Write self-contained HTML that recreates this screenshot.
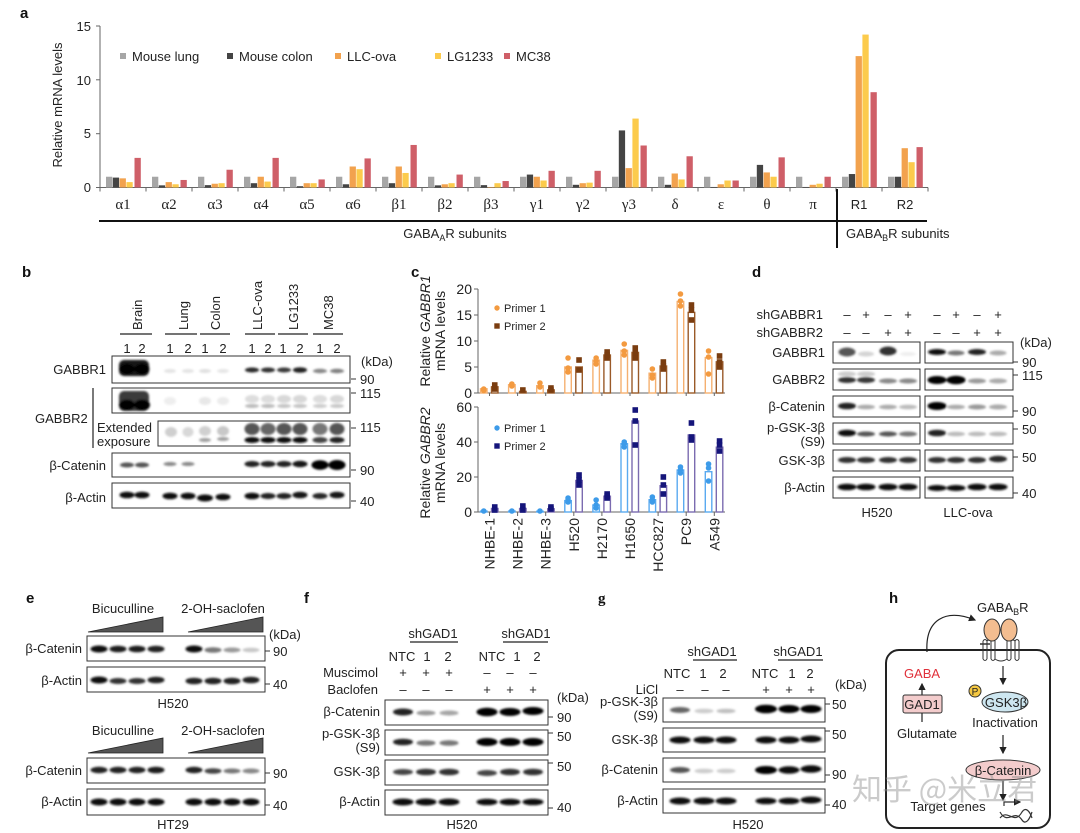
<!DOCTYPE html>
<html><head><meta charset="utf-8">
<style>
html,body{margin:0;padding:0;background:#fff;}
svg{display:block;}
text{font-family:"Liberation Sans",Arial,sans-serif;font-size:13px;fill:#222;}
.pl{font-weight:bold;font-size:15px;fill:#111;}
.sf{font-family:"Liberation Serif","Times New Roman",serif;font-size:15px;}
.k1{fill:#a6a6a6}.k2{fill:#444}.k3{fill:#f2a24e}.k4{fill:#fccb4c}.k5{fill:#cf5f68}
.box{fill:#fff;stroke:#333;stroke-width:1}
.e{text-anchor:end}.m{text-anchor:middle}
.ax{stroke:#666;stroke-width:1;fill:none}
.t14{font-size:14px}
.t11{font-size:11px}
</style></head><body>
<svg width="1080" height="833" viewBox="0 0 1080 833" xmlns="http://www.w3.org/2000/svg">
<defs>
<filter id="bl" x="-50%" y="-100%" width="200%" height="300%"><feGaussianBlur stdDeviation="1.1"/></filter>
<filter id="bl2" x="-50%" y="-100%" width="200%" height="300%"><feGaussianBlur stdDeviation="2"/></filter>
<marker id="ah" markerWidth="6" markerHeight="6" refX="5" refY="3" orient="auto"><path d="M0,0 L6,3 L0,6 z" fill="#222"/></marker>
</defs>

<!-- ================= PANEL A ================= -->
<text x="20" y="18" class="pl">a</text>
<text transform="translate(62,105) rotate(-90)" class="m">Relative mRNA levels</text>
<line x1="100" y1="26" x2="100" y2="187.5" class="ax"/>
<g class="ax">
<line x1="96" y1="26" x2="100" y2="26"/><line x1="96" y1="79.8" x2="100" y2="79.8"/><line x1="96" y1="133.7" x2="100" y2="133.7"/><line x1="96" y1="187.5" x2="100" y2="187.5"/>
</g>
<text x="91" y="31" class="e">15</text>
<text x="91" y="85" class="e">10</text>
<text x="91" y="138" class="e">5</text>
<text x="91" y="192" class="e">0</text>
<line x1="100" y1="187.5" x2="928" y2="187.5" class="ax"/>
<path class="ax" d="M100,187.5v4M146,187.5v4M192,187.5v4M238,187.5v4M284,187.5v4M330,187.5v4M376,187.5v4M422,187.5v4M468,187.5v4M514,187.5v4M560,187.5v4M606,187.5v4M652,187.5v4M698,187.5v4M744,187.5v4M790,187.5v4M836,187.5v4M882,187.5v4M928,187.5v4"/>

<!-- legend -->
<rect x="120" y="53" width="6" height="6" class="k1"/><text x="132" y="61">Mouse lung</text>
<rect x="227" y="53" width="6" height="6" class="k2"/><text x="239" y="61">Mouse colon</text>
<rect x="335" y="53" width="6" height="6" class="k3"/><text x="347" y="61">LLC-ova</text>
<rect x="435" y="53" width="6" height="6" class="k4"/><text x="447" y="61">LG1233</text>
<rect x="504" y="53" width="6" height="6" class="k5"/><text x="516" y="61">MC38</text>

<!-- bars -->
<g transform="translate(100,187.5) scale(1,-10.77)"><rect x="6" width="6.3" height="1" class="k1"/><rect x="12.8" width="6.3" height="0.92" class="k2"/><rect x="19.6" width="6.3" height="0.85" class="k3"/><rect x="26.4" width="6.3" height="0.5" class="k4"/><rect x="34.5" width="6.3" height="2.75" class="k5"/></g>
<g transform="translate(146,187.5) scale(1,-10.77)"><rect x="6" width="6.3" height="1" class="k1"/><rect x="12.8" width="6.3" height="0.2" class="k2"/><rect x="19.6" width="6.3" height="0.5" class="k3"/><rect x="26.4" width="6.3" height="0.3" class="k4"/><rect x="34.5" width="6.3" height="0.7" class="k5"/></g>
<g transform="translate(192,187.5) scale(1,-10.77)"><rect x="6" width="6.3" height="1" class="k1"/><rect x="12.8" width="6.3" height="0.22" class="k2"/><rect x="19.6" width="6.3" height="0.35" class="k3"/><rect x="26.4" width="6.3" height="0.4" class="k4"/><rect x="34.5" width="6.3" height="1.65" class="k5"/></g>
<g transform="translate(238,187.5) scale(1,-10.77)"><rect x="6" width="6.3" height="1" class="k1"/><rect x="12.8" width="6.3" height="0.4" class="k2"/><rect x="19.6" width="6.3" height="1.0" class="k3"/><rect x="26.4" width="6.3" height="0.55" class="k4"/><rect x="34.5" width="6.3" height="2.75" class="k5"/></g>
<g transform="translate(284,187.5) scale(1,-10.77)"><rect x="6" width="6.3" height="1" class="k1"/><rect x="12.8" width="6.3" height="0.12" class="k2"/><rect x="19.6" width="6.3" height="0.4" class="k3"/><rect x="26.4" width="6.3" height="0.4" class="k4"/><rect x="34.5" width="6.3" height="0.75" class="k5"/></g>
<g transform="translate(330,187.5) scale(1,-10.77)"><rect x="6" width="6.3" height="1" class="k1"/><rect x="12.8" width="6.3" height="0.3" class="k2"/><rect x="19.6" width="6.3" height="1.95" class="k3"/><rect x="26.4" width="6.3" height="1.7" class="k4"/><rect x="34.5" width="6.3" height="2.7" class="k5"/></g>
<g transform="translate(376,187.5) scale(1,-10.77)"><rect x="6" width="6.3" height="1" class="k1"/><rect x="12.8" width="6.3" height="0.4" class="k2"/><rect x="19.6" width="6.3" height="1.95" class="k3"/><rect x="26.4" width="6.3" height="1.35" class="k4"/><rect x="34.5" width="6.3" height="3.95" class="k5"/></g>
<g transform="translate(422,187.5) scale(1,-10.77)"><rect x="6" width="6.3" height="1" class="k1"/><rect x="12.8" width="6.3" height="0.2" class="k2"/><rect x="19.6" width="6.3" height="0.3" class="k3"/><rect x="26.4" width="6.3" height="0.4" class="k4"/><rect x="34.5" width="6.3" height="1.2" class="k5"/></g>
<g transform="translate(468,187.5) scale(1,-10.77)"><rect x="6" width="6.3" height="1" class="k1"/><rect x="12.8" width="6.3" height="0.22" class="k2"/><rect x="19.6" width="6.3" height="0.05" class="k3"/><rect x="26.4" width="6.3" height="0.4" class="k4"/><rect x="34.5" width="6.3" height="0.6" class="k5"/></g>
<g transform="translate(514,187.5) scale(1,-10.77)"><rect x="6" width="6.3" height="1" class="k1"/><rect x="12.8" width="6.3" height="1.2" class="k2"/><rect x="19.6" width="6.3" height="1.0" class="k3"/><rect x="26.4" width="6.3" height="0.65" class="k4"/><rect x="34.5" width="6.3" height="1.55" class="k5"/></g>
<g transform="translate(560,187.5) scale(1,-10.77)"><rect x="6" width="6.3" height="1" class="k1"/><rect x="12.8" width="6.3" height="0.25" class="k2"/><rect x="19.6" width="6.3" height="0.4" class="k3"/><rect x="26.4" width="6.3" height="0.45" class="k4"/><rect x="34.5" width="6.3" height="1.55" class="k5"/></g>
<g transform="translate(606,187.5) scale(1,-10.77)"><rect x="6" width="6.3" height="1" class="k1"/><rect x="12.8" width="6.3" height="5.3" class="k2"/><rect x="19.6" width="6.3" height="1.8" class="k3"/><rect x="26.4" width="6.3" height="6.4" class="k4"/><rect x="34.5" width="6.3" height="3.9" class="k5"/></g>
<g transform="translate(652,187.5) scale(1,-10.77)"><rect x="6" width="6.3" height="1" class="k1"/><rect x="12.8" width="6.3" height="0.25" class="k2"/><rect x="19.6" width="6.3" height="1.3" class="k3"/><rect x="26.4" width="6.3" height="0.75" class="k4"/><rect x="34.5" width="6.3" height="2.9" class="k5"/></g>
<g transform="translate(698,187.5) scale(1,-10.77)"><rect x="6" width="6.3" height="1" class="k1"/><rect x="12.8" width="6.3" height="0.05" class="k2"/><rect x="19.6" width="6.3" height="0.3" class="k3"/><rect x="26.4" width="6.3" height="0.65" class="k4"/><rect x="34.5" width="6.3" height="0.65" class="k5"/></g>
<g transform="translate(744,187.5) scale(1,-10.77)"><rect x="6" width="6.3" height="1" class="k1"/><rect x="12.8" width="6.3" height="2.1" class="k2"/><rect x="19.6" width="6.3" height="1.4" class="k3"/><rect x="26.4" width="6.3" height="1.0" class="k4"/><rect x="34.5" width="6.3" height="2.8" class="k5"/></g>
<g transform="translate(790,187.5) scale(1,-10.77)"><rect x="6" width="6.3" height="1" class="k1"/><rect x="12.8" width="6.3" height="0.05" class="k2"/><rect x="19.6" width="6.3" height="0.25" class="k3"/><rect x="26.4" width="6.3" height="0.35" class="k4"/><rect x="34.5" width="6.3" height="1.0" class="k5"/></g>
<g transform="translate(836,187.5) scale(1,-10.77)"><rect x="6" width="6.3" height="1" class="k1"/><rect x="12.8" width="6.3" height="1.25" class="k2"/><rect x="19.6" width="6.3" height="12.2" class="k3"/><rect x="26.4" width="6.3" height="14.2" class="k4"/><rect x="34.5" width="6.3" height="8.85" class="k5"/></g>
<g transform="translate(882,187.5) scale(1,-10.77)"><rect x="6" width="6.3" height="1" class="k1"/><rect x="12.8" width="6.3" height="1.0" class="k2"/><rect x="19.6" width="6.3" height="3.65" class="k3"/><rect x="26.4" width="6.3" height="2.35" class="k4"/><rect x="34.5" width="6.3" height="3.75" class="k5"/></g>

<g class="sf">
<text x="123" y="209" class="m sf">α1</text><text x="169" y="209" class="m sf">α2</text><text x="215" y="209" class="m sf">α3</text><text x="261" y="209" class="m sf">α4</text><text x="307" y="209" class="m sf">α5</text><text x="353" y="209" class="m sf">α6</text><text x="399" y="209" class="m sf">β1</text><text x="445" y="209" class="m sf">β2</text><text x="491" y="209" class="m sf">β3</text><text x="537" y="209" class="m sf">γ1</text><text x="583" y="209" class="m sf">γ2</text><text x="629" y="209" class="m sf">γ3</text><text x="675" y="209" class="m sf">δ</text><text x="721" y="209" class="m sf">ε</text><text x="767" y="209" class="m sf">θ</text><text x="813" y="209" class="m sf">π</text>
</g>
<text x="859" y="209" class="m">R1</text><text x="905" y="209" class="m">R2</text>
<line x1="99" y1="221" x2="927" y2="221" stroke="#111" stroke-width="2"/>
<line x1="837" y1="189" x2="837" y2="248" stroke="#111" stroke-width="2"/>
<text x="455" y="238" class="m">GABA<tspan font-size="9" dy="3">A</tspan><tspan dy="-3">R subunits</tspan></text>
<text x="846" y="238">GABA<tspan font-size="9" dy="3">B</tspan><tspan dy="-3">R subunits</tspan></text>

<!-- ================= PANEL B ================= -->
<text x="22" y="277" class="pl">b</text>
<text transform="translate(142,330) rotate(-90)">Brain</text>
<text transform="translate(188,330) rotate(-90)">Lung</text>
<text transform="translate(220,330) rotate(-90)">Colon</text>
<text transform="translate(262,330) rotate(-90)">LLC-ova</text>
<text transform="translate(298,330) rotate(-90)">LG1233</text>
<text transform="translate(333,330) rotate(-90)">MC38</text>
<g stroke="#222" stroke-width="1.2">
<line x1="120" y1="334" x2="152" y2="334"/><line x1="165" y1="334" x2="197" y2="334"/><line x1="200" y1="334" x2="230" y2="334"/><line x1="245" y1="334" x2="275" y2="334"/><line x1="278" y1="334" x2="308" y2="334"/><line x1="313" y1="334" x2="343" y2="334"/>
</g>
<g class="m">
<text x="127" y="353" class="m">1</text><text x="142" y="353" class="m">2</text><text x="170" y="353" class="m">1</text><text x="188" y="353" class="m">2</text><text x="205" y="353" class="m">1</text><text x="223" y="353" class="m">2</text><text x="252" y="353" class="m">1</text><text x="268" y="353" class="m">2</text><text x="283" y="353" class="m">1</text><text x="300" y="353" class="m">2</text><text x="320" y="353" class="m">1</text><text x="337" y="353" class="m">2</text>
</g>
<rect x="112" y="356" width="238" height="27" class="box"/>
<rect x="112" y="388" width="238" height="25" class="box"/>
<rect x="158" y="421" width="192" height="25" class="box"/>
<rect x="112" y="453" width="238" height="24" class="box"/>
<rect x="112" y="483" width="238" height="25" class="box"/>
<g filter="url(#bl)">
<!-- GABBR1 -->
<rect x="119" y="360" width="30" height="16" rx="5" fill="#151515"/>
<ellipse cx="127" cy="369" rx="7.5" ry="5" fill="#000"/><ellipse cx="142" cy="369" rx="7.5" ry="5" fill="#000"/>
<ellipse cx="170" cy="371" rx="6" ry="2" fill="#e4e4e4"/><ellipse cx="188" cy="371" rx="6" ry="2" fill="#e4e4e4"/><ellipse cx="205" cy="371" rx="6" ry="2" fill="#e0e0e0"/><ellipse cx="223" cy="371" rx="6" ry="2" fill="#e6e6e6"/>
<ellipse cx="252" cy="370" rx="7" ry="2.5" fill="#2a2a2a"/><ellipse cx="268" cy="370" rx="7" ry="2.5" fill="#333"/><ellipse cx="284" cy="370" rx="7" ry="2.5" fill="#3a3a3a"/><ellipse cx="300" cy="370" rx="7" ry="2.8" fill="#222"/><ellipse cx="320" cy="371" rx="7" ry="2.2" fill="#888"/><ellipse cx="337" cy="371" rx="7" ry="2.2" fill="#808080"/>
<!-- GABBR2 -->
<rect x="119" y="391" width="30" height="20" rx="5" fill="#3a3a3a"/>
<ellipse cx="127" cy="405" rx="8" ry="5.5" fill="#000"/><ellipse cx="142" cy="405" rx="8" ry="5.5" fill="#000"/>
<ellipse cx="170" cy="401" rx="6" ry="4" fill="#eee"/><ellipse cx="205" cy="401" rx="6" ry="4" fill="#e8e8e8"/><ellipse cx="223" cy="401" rx="6" ry="4" fill="#ececec"/>
<ellipse cx="252" cy="399" rx="7" ry="4" fill="#ddd"/><ellipse cx="268" cy="399" rx="7" ry="4" fill="#ddd"/><ellipse cx="284" cy="399" rx="7" ry="4" fill="#d8d8d8"/><ellipse cx="300" cy="399" rx="7" ry="4" fill="#d8d8d8"/><ellipse cx="320" cy="399" rx="7" ry="4" fill="#ddd"/><ellipse cx="337" cy="399" rx="7" ry="4" fill="#d8d8d8"/>
<ellipse cx="252" cy="406" rx="7" ry="2" fill="#bbb"/><ellipse cx="268" cy="406" rx="7" ry="2" fill="#bbb"/><ellipse cx="284" cy="406" rx="7" ry="2" fill="#c4c4c4"/><ellipse cx="300" cy="406" rx="7" ry="2" fill="#c4c4c4"/><ellipse cx="320" cy="406" rx="7" ry="2" fill="#ccc"/><ellipse cx="337" cy="406" rx="7" ry="2" fill="#c8c8c8"/>
<!-- extended -->
<ellipse cx="171" cy="432" rx="6" ry="5" fill="#cfcfcf"/><ellipse cx="188" cy="432" rx="5.5" ry="5" fill="#d8d8d8"/>
<ellipse cx="205" cy="431" rx="6" ry="5" fill="#d0d0d0"/><ellipse cx="205" cy="440" rx="6" ry="2" fill="#a0a0a0"/>
<ellipse cx="223" cy="431" rx="6" ry="5" fill="#c8c8c8"/><ellipse cx="223" cy="439" rx="6" ry="2" fill="#a0a0a0"/>
<ellipse cx="252" cy="429" rx="7.5" ry="6" fill="#555"/><ellipse cx="268" cy="429" rx="7.5" ry="6" fill="#666"/><ellipse cx="284" cy="429" rx="7.5" ry="6" fill="#555"/><ellipse cx="300" cy="429" rx="7.5" ry="6" fill="#555"/><ellipse cx="320" cy="429" rx="7.5" ry="6" fill="#777"/><ellipse cx="337" cy="429" rx="7.5" ry="6" fill="#555"/>
<ellipse cx="252" cy="440" rx="7.5" ry="3" fill="#111"/><ellipse cx="268" cy="440" rx="7.5" ry="3" fill="#111"/><ellipse cx="284" cy="440" rx="7.5" ry="3" fill="#111"/><ellipse cx="300" cy="440" rx="7.5" ry="3" fill="#111"/><ellipse cx="320" cy="440" rx="7.5" ry="3" fill="#444"/><ellipse cx="337" cy="440" rx="7.5" ry="3" fill="#222"/>
<!-- catenin -->
<ellipse cx="127" cy="465" rx="7" ry="2.5" fill="#555"/><ellipse cx="142" cy="465" rx="7" ry="2.5" fill="#555"/>
<ellipse cx="170" cy="464" rx="6.5" ry="2" fill="#888"/><ellipse cx="188" cy="464" rx="6.5" ry="2" fill="#888"/>
<ellipse cx="252" cy="464" rx="7.5" ry="3" fill="#222"/><ellipse cx="268" cy="464" rx="7.5" ry="3" fill="#222"/><ellipse cx="284" cy="464" rx="7.5" ry="3" fill="#222"/><ellipse cx="300" cy="464" rx="7.5" ry="3.2" fill="#181818"/><ellipse cx="320" cy="465" rx="8.5" ry="4.8" fill="#000"/><ellipse cx="337" cy="465" rx="8.5" ry="5" fill="#000"/>
<!-- actin -->
<ellipse cx="127" cy="495" rx="7.5" ry="3.3" fill="#111"/><ellipse cx="142" cy="495" rx="7.5" ry="3.3" fill="#111"/><ellipse cx="170" cy="496" rx="7.5" ry="3.3" fill="#111"/><ellipse cx="188" cy="496" rx="7.5" ry="3.3" fill="#111"/><ellipse cx="205" cy="498" rx="8" ry="3.5" fill="#111"/><ellipse cx="223" cy="497" rx="7.5" ry="3.3" fill="#111"/><ellipse cx="252" cy="496" rx="7.5" ry="3.3" fill="#111"/><ellipse cx="268" cy="496" rx="7.5" ry="3" fill="#222"/><ellipse cx="284" cy="496" rx="7.5" ry="3" fill="#222"/><ellipse cx="300" cy="495" rx="7.5" ry="3.3" fill="#181818"/><ellipse cx="320" cy="496" rx="7.5" ry="3" fill="#282828"/><ellipse cx="337" cy="495" rx="7.5" ry="3.3" fill="#181818"/>
</g>
<text x="106" y="374" class="e">GABBR1</text>
<text x="35" y="423">GABBR2</text>
<line x1="93" y1="388" x2="93" y2="448" stroke="#222" stroke-width="1.2"/>
<text x="97" y="432">Extended</text>
<text x="97" y="446">exposure</text>
<text x="106" y="470" class="e">β-Catenin</text>
<text x="106" y="502" class="e">β-Actin</text>
<g stroke="#333"><line x1="351" y1="379" x2="356" y2="379"/><line x1="351" y1="393" x2="356" y2="393"/><line x1="351" y1="428" x2="356" y2="428"/><line x1="351" y1="470" x2="356" y2="470"/><line x1="351" y1="501" x2="356" y2="501"/></g>
<text x="361" y="366">(kDa)</text>
<text x="360" y="384">90</text>
<text x="360" y="398">115</text>
<text x="360" y="432">115</text>
<text x="360" y="475">90</text>
<text x="360" y="506">40</text>

<!-- ================= PANEL C ================= -->
<text x="411" y="277" class="pl">c</text>
<text transform="translate(430,331) rotate(-90)" class="m t14">Relative <tspan font-style="italic">GABBR1</tspan></text>
<text transform="translate(445,331) rotate(-90)" class="m t14">mRNA levels</text>
<text transform="translate(430,463) rotate(-90)" class="m t14">Relative <tspan font-style="italic">GABBR2</tspan></text>
<text transform="translate(445,463) rotate(-90)" class="m t14">mRNA levels</text>
<g class="ax">
<line x1="478" y1="289" x2="478" y2="393"/><line x1="478" y1="393" x2="725" y2="393"/>
<path d="M474,289h4M474,315h4M474,341h4M474,367h4M474,393h4"/>
<line x1="478" y1="407" x2="478" y2="512"/><line x1="478" y1="512" x2="725" y2="512"/>
<path d="M474,407h4M474,442h4M474,477h4M474,512h4"/>
<path d="M489.5,393v3M517.6,393v3M545.7,393v3M573.8,393v3M601.9,393v3M630,393v3M658.1,393v3M686.2,393v3M714.3,393v3"/>
<path d="M489.5,512v4M517.6,512v4M545.7,512v4M573.8,512v4M601.9,512v4M630,512v4M658.1,512v4M686.2,512v4M714.3,512v4"/>
</g>
<text x="472" y="294" class="e t14">20</text><text x="472" y="320" class="e t14">15</text><text x="472" y="346" class="e t14">10</text><text x="472" y="372" class="e t14">5</text><text x="472" y="398" class="e t14">0</text>
<text x="472" y="412" class="e t14">60</text><text x="472" y="447" class="e t14">40</text><text x="472" y="482" class="e t14">20</text><text x="472" y="517" class="e t14">0</text>
<circle cx="497" cy="308" r="2.7" fill="#f39a40"/><text x="504" y="312" class="t11">Primer 1</text>
<rect x="494.3" y="323.3" width="5.4" height="5.4" fill="#7a3d10"/><text x="504" y="330" class="t11">Primer 2</text>
<circle cx="497" cy="428" r="2.7" fill="#3d9be9"/><text x="504" y="432" class="t11">Primer 1</text>
<rect x="494.3" y="443.3" width="5.4" height="5.4" fill="#15157a"/><text x="504" y="450" class="t11">Primer 2</text>
<!-- top bars -->
<g fill="#fff" stroke="#f5b070" stroke-width="1.4">
<rect x="480.5" y="388.8" width="6.5" height="4.2"/><rect x="508.6" y="384.7" width="6.5" height="8.3"/><rect x="536.7" y="385.7" width="6.5" height="7.3"/><rect x="564.8" y="367" width="6.5" height="26"/><rect x="592.9" y="360.2" width="6.5" height="32.8"/><rect x="621" y="350.4" width="6.5" height="42.6"/><rect x="649.1" y="373.2" width="6.5" height="19.8"/><rect x="677.2" y="301.5" width="6.5" height="91.5"/><rect x="705.3" y="357.6" width="6.5" height="35.4"/>
</g>
<g fill="#fff" stroke="#9a5a28" stroke-width="1.4">
<rect x="491.5" y="386.8" width="6.5" height="6.2"/><rect x="519.6" y="391.4" width="6.5" height="1.6"/><rect x="547.7" y="389.9" width="6.5" height="3.1"/><rect x="575.8" y="367" width="6.5" height="26"/><rect x="603.9" y="355" width="6.5" height="38"/><rect x="632" y="352.4" width="6.5" height="40.6"/><rect x="660.1" y="366" width="6.5" height="27"/><rect x="688.2" y="312.4" width="6.5" height="80.6"/><rect x="716.3" y="361.8" width="6.5" height="31.2"/>
</g>
<g fill="#f39a40">
<circle cx="483.75" cy="389" r="2.8"/><circle cx="483.75" cy="390.5" r="2.8"/>
<circle cx="511.85" cy="384" r="2.8"/><circle cx="511.85" cy="386" r="2.8"/>
<circle cx="539.95" cy="383" r="2.8"/><circle cx="539.95" cy="387" r="2.8"/>
<circle cx="568.05" cy="358" r="2.8"/><circle cx="568.05" cy="368" r="2.8"/><circle cx="568.05" cy="372" r="2.8"/>
<circle cx="596.15" cy="358" r="2.8"/><circle cx="596.15" cy="361" r="2.8"/><circle cx="596.15" cy="364" r="2.8"/>
<circle cx="624.25" cy="344" r="2.8"/><circle cx="624.25" cy="351" r="2.8"/><circle cx="624.25" cy="355" r="2.8"/>
<circle cx="652.35" cy="369" r="2.8"/><circle cx="652.35" cy="375" r="2.8"/><circle cx="652.35" cy="378" r="2.8"/>
<circle cx="680.45" cy="294" r="2.8"/><circle cx="680.45" cy="301" r="2.8"/><circle cx="680.45" cy="306" r="2.8"/>
<circle cx="708.55" cy="351" r="2.8"/><circle cx="708.55" cy="357" r="2.8"/><circle cx="708.55" cy="374" r="2.8"/>
</g>
<g fill="#7a3d10">
<rect x="491.95" y="382.2" width="5.6" height="5.6"/><rect x="491.95" y="386.2" width="5.6" height="5.6"/>
<rect x="520.05" y="387.2" width="5.6" height="5.6"/>
<rect x="548.15" y="385.2" width="5.6" height="5.6"/><rect x="548.15" y="387.2" width="5.6" height="5.6"/>
<rect x="576.25" y="357.2" width="5.6" height="5.6"/><rect x="576.25" y="367.2" width="5.6" height="5.6"/>
<rect x="604.35" y="349.2" width="5.6" height="5.6"/><rect x="604.35" y="352.2" width="5.6" height="5.6"/><rect x="604.35" y="355.2" width="5.6" height="5.6"/>
<rect x="632.45" y="345.2" width="5.6" height="5.6"/><rect x="632.45" y="350.2" width="5.6" height="5.6"/><rect x="632.45" y="355.2" width="5.6" height="5.6"/>
<rect x="660.55" y="359.2" width="5.6" height="5.6"/><rect x="660.55" y="363.2" width="5.6" height="5.6"/><rect x="660.55" y="366.2" width="5.6" height="5.6"/>
<rect x="688.65" y="302.2" width="5.6" height="5.6"/><rect x="688.65" y="307.2" width="5.6" height="5.6"/><rect x="688.65" y="317.2" width="5.6" height="5.6"/>
<rect x="716.75" y="353.2" width="5.6" height="5.6"/><rect x="716.75" y="359.2" width="5.6" height="5.6"/><rect x="716.75" y="364.2" width="5.6" height="5.6"/>
</g>
<!-- bottom bars -->
<g fill="#fff" stroke="#5aaaf0" stroke-width="1.4">
<rect x="480.5" y="511.1" width="6.5" height="0.9"/><rect x="508.6" y="511.1" width="6.5" height="0.9"/><rect x="536.7" y="511.3" width="6.5" height="0.7"/><rect x="564.8" y="500.6" width="6.5" height="11.4"/><rect x="592.9" y="505" width="6.5" height="7"/><rect x="621" y="443.7" width="6.5" height="68.3"/><rect x="649.1" y="499.7" width="6.5" height="12.3"/><rect x="677.2" y="470" width="6.5" height="42"/><rect x="705.3" y="471.7" width="6.5" height="40.3"/>
</g>
<g fill="#fff" stroke="#7b6bb0" stroke-width="1.4">
<rect x="491.5" y="508.5" width="6.5" height="3.5"/><rect x="519.6" y="508.5" width="6.5" height="3.5"/><rect x="547.7" y="508.8" width="6.5" height="3.2"/><rect x="575.8" y="480.5" width="6.5" height="31.5"/><rect x="603.9" y="496.2" width="6.5" height="15.8"/><rect x="632" y="421" width="6.5" height="91"/><rect x="660.1" y="485.7" width="6.5" height="26.3"/><rect x="688.2" y="435" width="6.5" height="77"/><rect x="716.3" y="447.2" width="6.5" height="64.8"/>
</g>
<g fill="#3d9be9">
<circle cx="483.75" cy="511" r="2.8"/><circle cx="511.85" cy="511" r="2.8"/><circle cx="539.95" cy="511" r="2.8"/>
<circle cx="568.05" cy="498" r="2.8"/><circle cx="568.05" cy="500" r="2.8"/><circle cx="568.05" cy="502" r="2.8"/>
<circle cx="596.15" cy="500" r="2.8"/><circle cx="596.15" cy="505" r="2.8"/><circle cx="596.15" cy="508" r="2.8"/>
<circle cx="624.25" cy="442" r="2.8"/><circle cx="624.25" cy="444" r="2.8"/><circle cx="624.25" cy="447" r="2.8"/>
<circle cx="652.35" cy="497" r="2.8"/><circle cx="652.35" cy="500" r="2.8"/><circle cx="652.35" cy="502" r="2.8"/>
<circle cx="680.45" cy="467" r="2.8"/><circle cx="680.45" cy="470" r="2.8"/><circle cx="680.45" cy="473" r="2.8"/>
<circle cx="708.55" cy="464" r="2.8"/><circle cx="708.55" cy="468" r="2.8"/><circle cx="708.55" cy="481" r="2.8"/>
</g>
<g fill="#15157a">
<rect x="491.95" y="504.2" width="5.6" height="5.6"/><rect x="491.95" y="507.2" width="5.6" height="5.6"/>
<rect x="520.05" y="503.2" width="5.6" height="5.6"/><rect x="520.05" y="507.2" width="5.6" height="5.6"/>
<rect x="548.15" y="504.2" width="5.6" height="5.6"/><rect x="548.15" y="506.2" width="5.6" height="5.6"/>
<rect x="576.25" y="472.2" width="5.6" height="5.6"/><rect x="576.25" y="477.2" width="5.6" height="5.6"/><rect x="576.25" y="482.2" width="5.6" height="5.6"/>
<rect x="604.35" y="491.2" width="5.6" height="5.6"/><rect x="604.35" y="493.2" width="5.6" height="5.6"/><rect x="604.35" y="495.2" width="5.6" height="5.6"/>
<rect x="632.45" y="407.2" width="5.6" height="5.6"/><rect x="632.45" y="418.2" width="5.6" height="5.6"/><rect x="632.45" y="442.2" width="5.6" height="5.6"/>
<rect x="660.55" y="474.2" width="5.6" height="5.6"/><rect x="660.55" y="482.2" width="5.6" height="5.6"/><rect x="660.55" y="491.2" width="5.6" height="5.6"/>
<rect x="688.65" y="420.2" width="5.6" height="5.6"/><rect x="688.65" y="434.2" width="5.6" height="5.6"/><rect x="688.65" y="437.2" width="5.6" height="5.6"/>
<rect x="716.75" y="438.2" width="5.6" height="5.6"/><rect x="716.75" y="442.2" width="5.6" height="5.6"/><rect x="716.75" y="448.2" width="5.6" height="5.6"/>
</g>
<text transform="translate(494.5,518) rotate(-90)" class="e t14">NHBE-1</text>
<text transform="translate(522.6,518) rotate(-90)" class="e t14">NHBE-2</text>
<text transform="translate(550.7,518) rotate(-90)" class="e t14">NHBE-3</text>
<text transform="translate(578.8,518) rotate(-90)" class="e t14">H520</text>
<text transform="translate(606.9,518) rotate(-90)" class="e t14">H2170</text>
<text transform="translate(635,518) rotate(-90)" class="e t14">H1650</text>
<text transform="translate(663.1,518) rotate(-90)" class="e t14">HCC827</text>
<text transform="translate(691.2,518) rotate(-90)" class="e t14">PC9</text>
<text transform="translate(719.3,518) rotate(-90)" class="e t14">A549</text>

<!-- ================= PANEL D ================= -->
<text x="752" y="277" class="pl">d</text>
<text x="823" y="319" class="e">shGABBR1</text>
<text x="823" y="337" class="e">shGABBR2</text>
<g class="m">
<text x="847" y="319" class="m">–</text><text x="866" y="319" class="m">+</text><text x="888" y="319" class="m">–</text><text x="908" y="319" class="m">+</text>
<text x="937" y="319" class="m">–</text><text x="956" y="319" class="m">+</text><text x="977" y="319" class="m">–</text><text x="998" y="319" class="m">+</text>
<text x="847" y="337" class="m">–</text><text x="866" y="337" class="m">–</text><text x="888" y="337" class="m">+</text><text x="908" y="337" class="m">+</text>
<text x="937" y="337" class="m">–</text><text x="956" y="337" class="m">–</text><text x="977" y="337" class="m">+</text><text x="998" y="337" class="m">+</text>
</g>
<g>
<rect x="833" y="342" width="87" height="21" class="box"/><rect x="925" y="342" width="88" height="21" class="box"/>
<rect x="833" y="369" width="87" height="21" class="box"/><rect x="925" y="369" width="88" height="21" class="box"/>
<rect x="833" y="396" width="87" height="21" class="box"/><rect x="925" y="396" width="88" height="21" class="box"/>
<rect x="833" y="423" width="87" height="21" class="box"/><rect x="925" y="423" width="88" height="21" class="box"/>
<rect x="833" y="450" width="87" height="21" class="box"/><rect x="925" y="450" width="88" height="21" class="box"/>
<rect x="833" y="477" width="87" height="21" class="box"/><rect x="925" y="477" width="88" height="21" class="box"/>
</g>
<g filter="url(#bl)">
<ellipse cx="847" cy="352" rx="8.5" ry="4.5" fill="#555"/><ellipse cx="866" cy="354" rx="8" ry="2.5" fill="#d4d4d4"/><ellipse cx="888" cy="351" rx="8.5" ry="4.5" fill="#333"/><ellipse cx="908" cy="354" rx="8" ry="2" fill="#eee"/>
<ellipse cx="937" cy="352" rx="9" ry="3" fill="#111"/><ellipse cx="956" cy="353" rx="8.5" ry="2.5" fill="#777"/><ellipse cx="977" cy="352" rx="9" ry="3" fill="#222"/><ellipse cx="998" cy="353" rx="8.5" ry="2.5" fill="#aaa"/>
<ellipse cx="847" cy="380" rx="9" ry="3" fill="#333"/><ellipse cx="866" cy="380" rx="9" ry="3" fill="#383838"/><ellipse cx="888" cy="381" rx="9" ry="2.5" fill="#888"/><ellipse cx="908" cy="381" rx="9" ry="2.5" fill="#888"/>
<ellipse cx="847" cy="374" rx="9" ry="2.5" fill="#ccc"/><ellipse cx="866" cy="374" rx="9" ry="2.5" fill="#ccc"/>
<ellipse cx="937" cy="380" rx="9.5" ry="4" fill="#000"/><ellipse cx="956" cy="380" rx="9.5" ry="4.3" fill="#000"/><ellipse cx="977" cy="381" rx="9" ry="2.5" fill="#999"/><ellipse cx="998" cy="381" rx="9" ry="2.5" fill="#aaa"/>
<ellipse cx="847" cy="406" rx="9" ry="3.3" fill="#222"/><ellipse cx="866" cy="407" rx="9" ry="2.3" fill="#aaa"/><ellipse cx="888" cy="407" rx="9" ry="2.3" fill="#aaa"/><ellipse cx="908" cy="407" rx="9" ry="2.3" fill="#bbb"/>
<ellipse cx="937" cy="406" rx="9.5" ry="4" fill="#000"/><ellipse cx="956" cy="407" rx="9" ry="2.3" fill="#aaa"/><ellipse cx="977" cy="407" rx="9" ry="2.5" fill="#999"/><ellipse cx="998" cy="407" rx="9" ry="2.5" fill="#aaa"/>
<ellipse cx="847" cy="433" rx="9" ry="3.3" fill="#111"/><ellipse cx="866" cy="434" rx="9" ry="2.5" fill="#555"/><ellipse cx="888" cy="434" rx="9" ry="2.5" fill="#555"/><ellipse cx="908" cy="434" rx="9" ry="2.5" fill="#777"/>
<ellipse cx="937" cy="433" rx="9" ry="3.3" fill="#222"/><ellipse cx="956" cy="434" rx="9" ry="2.3" fill="#bbb"/><ellipse cx="977" cy="434" rx="9" ry="2.3" fill="#bbb"/><ellipse cx="998" cy="434" rx="9" ry="2.3" fill="#bbb"/>
<ellipse cx="847" cy="460" rx="9" ry="3" fill="#333"/><ellipse cx="866" cy="460" rx="9" ry="3" fill="#333"/><ellipse cx="888" cy="460" rx="9" ry="3" fill="#333"/><ellipse cx="908" cy="460" rx="9" ry="3" fill="#333"/>
<ellipse cx="937" cy="460" rx="9" ry="3" fill="#333"/><ellipse cx="956" cy="460" rx="9" ry="3" fill="#333"/><ellipse cx="977" cy="460" rx="9" ry="3" fill="#333"/><ellipse cx="998" cy="459" rx="9" ry="3.2" fill="#2a2a2a"/>
<ellipse cx="847" cy="487" rx="9.5" ry="3.3" fill="#111"/><ellipse cx="866" cy="487" rx="9.5" ry="3.3" fill="#111"/><ellipse cx="888" cy="487" rx="9.5" ry="3.3" fill="#111"/><ellipse cx="908" cy="487" rx="9.5" ry="3.3" fill="#111"/>
<ellipse cx="937" cy="488" rx="9.5" ry="3" fill="#111"/><ellipse cx="956" cy="488" rx="9.5" ry="3" fill="#111"/><ellipse cx="977" cy="487" rx="9.5" ry="3.3" fill="#111"/><ellipse cx="998" cy="487" rx="9.5" ry="3.3" fill="#111"/>
</g>
<text x="825" y="357" class="e">GABBR1</text>
<text x="825" y="384" class="e">GABBR2</text>
<text x="825" y="411" class="e">β-Catenin</text>
<text x="825" y="432" class="e">p-GSK-3β</text>
<text x="825" y="446" class="e">(S9)</text>
<text x="825" y="465" class="e">GSK-3β</text>
<text x="825" y="492" class="e">β-Actin</text>
<g stroke="#333"><line x1="1013" y1="362" x2="1018" y2="362"/><line x1="1013" y1="375" x2="1018" y2="375"/><line x1="1013" y1="411" x2="1018" y2="411"/><line x1="1013" y1="429" x2="1018" y2="429"/><line x1="1013" y1="457" x2="1018" y2="457"/><line x1="1013" y1="493" x2="1018" y2="493"/></g>
<text x="1020" y="347">(kDa)</text>
<text x="1022" y="367">90</text>
<text x="1022" y="380">115</text>
<text x="1022" y="416">90</text>
<text x="1022" y="434">50</text>
<text x="1022" y="462">50</text>
<text x="1022" y="498">40</text>
<text x="877" y="517" class="m">H520</text>
<text x="968" y="517" class="m">LLC-ova</text>

<!-- ================= PANEL E ================= -->
<text x="26" y="603" class="pl">e</text>
<text x="123" y="613" class="m">Bicuculline</text>
<text x="223" y="613" class="m">2-OH-saclofen</text>
<polygon points="88,632 163,632 163,617" fill="#555" stroke="#222" stroke-width="0.8"/>
<polygon points="188,632 263,632 263,617" fill="#555" stroke="#222" stroke-width="0.8"/>
<rect x="87" y="636" width="178" height="25" class="box"/>
<rect x="87" y="667" width="178" height="25" class="box"/>
<text x="123" y="735" class="m">Bicuculline</text>
<text x="223" y="735" class="m">2-OH-saclofen</text>
<polygon points="88,753 163,753 163,738" fill="#555" stroke="#222" stroke-width="0.8"/>
<polygon points="188,753 263,753 263,738" fill="#555" stroke="#222" stroke-width="0.8"/>
<rect x="87" y="758" width="178" height="25" class="box"/>
<rect x="87" y="789" width="178" height="26" class="box"/>
<g filter="url(#bl)">
<ellipse cx="99" cy="649" rx="8.5" ry="3.5" fill="#111"/><ellipse cx="118" cy="649" rx="8.5" ry="3.3" fill="#1a1a1a"/><ellipse cx="137" cy="649" rx="8.5" ry="3.3" fill="#1a1a1a"/><ellipse cx="156" cy="649" rx="8.5" ry="3.3" fill="#222"/>
<ellipse cx="194" cy="649" rx="8.5" ry="3.5" fill="#111"/><ellipse cx="213" cy="650" rx="8.5" ry="2.8" fill="#777"/><ellipse cx="232" cy="650" rx="8.5" ry="2.5" fill="#9a9a9a"/><ellipse cx="251" cy="650" rx="8.5" ry="2.3" fill="#c8c8c8"/>
<ellipse cx="99" cy="680" rx="8.5" ry="3.5" fill="#111"/><ellipse cx="118" cy="681" rx="8.5" ry="3" fill="#333"/><ellipse cx="137" cy="681" rx="8.5" ry="3" fill="#333"/><ellipse cx="156" cy="680" rx="8.5" ry="3.3" fill="#222"/>
<ellipse cx="194" cy="681" rx="8.5" ry="3.3" fill="#222"/><ellipse cx="213" cy="681" rx="8.5" ry="3.3" fill="#222"/><ellipse cx="232" cy="681" rx="8.5" ry="3.3" fill="#222"/><ellipse cx="251" cy="680" rx="8.5" ry="3.3" fill="#222"/>
<ellipse cx="99" cy="770" rx="8.5" ry="3.2" fill="#222"/><ellipse cx="118" cy="770" rx="8.5" ry="3.2" fill="#222"/><ellipse cx="137" cy="770" rx="8.5" ry="3.2" fill="#222"/><ellipse cx="156" cy="770" rx="8.5" ry="3.3" fill="#1a1a1a"/>
<ellipse cx="194" cy="770" rx="8.5" ry="3.2" fill="#222"/><ellipse cx="213" cy="771" rx="8.5" ry="2.8" fill="#444"/><ellipse cx="232" cy="771" rx="8.5" ry="2.5" fill="#777"/><ellipse cx="251" cy="771" rx="8.5" ry="2.5" fill="#888"/>
<ellipse cx="99" cy="802" rx="8.5" ry="3.5" fill="#111"/><ellipse cx="118" cy="802" rx="8.5" ry="3.5" fill="#111"/><ellipse cx="137" cy="802" rx="8.5" ry="3.5" fill="#111"/><ellipse cx="156" cy="802" rx="8.5" ry="3.5" fill="#111"/>
<ellipse cx="194" cy="802" rx="8.5" ry="3.5" fill="#111"/><ellipse cx="213" cy="802" rx="8.5" ry="3.5" fill="#111"/><ellipse cx="232" cy="802" rx="8.5" ry="3.5" fill="#111"/><ellipse cx="251" cy="802" rx="8.5" ry="3.5" fill="#111"/>
</g>
<text x="82" y="653" class="e">β-Catenin</text>
<text x="82" y="685" class="e">β-Actin</text>
<text x="82" y="775" class="e">β-Catenin</text>
<text x="82" y="806" class="e">β-Actin</text>
<g stroke="#333"><line x1="265" y1="651" x2="270" y2="651"/><line x1="265" y1="684" x2="270" y2="684"/><line x1="265" y1="773" x2="270" y2="773"/><line x1="265" y1="805" x2="270" y2="805"/></g>
<text x="269" y="639">(kDa)</text>
<text x="273" y="656">90</text>
<text x="273" y="689">40</text>
<text x="273" y="778">90</text>
<text x="273" y="810">40</text>
<text x="173" y="708" class="m">H520</text>
<text x="173" y="829" class="m">HT29</text>

<!-- ================= PANEL F ================= -->
<text x="304" y="603" class="pl">f</text>
<text x="433" y="638" class="m">shGAD1</text>
<text x="526" y="638" class="m">shGAD1</text>
<line x1="410" y1="642" x2="458" y2="642" stroke="#222" stroke-width="1.3"/>
<line x1="503" y1="642" x2="548" y2="642" stroke="#222" stroke-width="1.3"/>
<text x="402" y="661" class="m">NTC</text><text x="427" y="661" class="m">1</text><text x="448" y="661" class="m">2</text>
<text x="492" y="661" class="m">NTC</text><text x="517" y="661" class="m">1</text><text x="537" y="661" class="m">2</text>
<text x="378" y="677" class="e">Muscimol</text>
<text x="378" y="694" class="e">Baclofen</text>
<text x="403" y="677" class="m">+</text><text x="426" y="677" class="m">+</text><text x="449" y="677" class="m">+</text><text x="487" y="677" class="m">–</text><text x="510" y="677" class="m">–</text><text x="533" y="677" class="m">–</text>
<text x="403" y="694" class="m">–</text><text x="426" y="694" class="m">–</text><text x="449" y="694" class="m">–</text><text x="487" y="694" class="m">+</text><text x="510" y="694" class="m">+</text><text x="533" y="694" class="m">+</text>
<rect x="385" y="700" width="163" height="25" class="box"/>
<rect x="385" y="730" width="163" height="25" class="box"/>
<rect x="385" y="760" width="163" height="25" class="box"/>
<rect x="385" y="790" width="163" height="25" class="box"/>
<g filter="url(#bl)">
<ellipse cx="403" cy="712" rx="10" ry="3.5" fill="#222"/><ellipse cx="426" cy="713" rx="9.5" ry="2.5" fill="#999"/><ellipse cx="449" cy="713" rx="9.5" ry="2.5" fill="#a5a5a5"/>
<ellipse cx="487" cy="712" rx="10.5" ry="4.3" fill="#000"/><ellipse cx="510" cy="712" rx="10.5" ry="4" fill="#000"/><ellipse cx="533" cy="711" rx="10.5" ry="4" fill="#000"/>
<ellipse cx="403" cy="742" rx="10" ry="3.3" fill="#222"/><ellipse cx="426" cy="743" rx="9.5" ry="2.8" fill="#777"/><ellipse cx="449" cy="743" rx="9.5" ry="2.8" fill="#777"/>
<ellipse cx="487" cy="742" rx="10.5" ry="4" fill="#000"/><ellipse cx="510" cy="742" rx="10.5" ry="4" fill="#000"/><ellipse cx="533" cy="742" rx="10.5" ry="4" fill="#000"/>
<ellipse cx="403" cy="772" rx="10" ry="3" fill="#444"/><ellipse cx="426" cy="772" rx="10" ry="3.3" fill="#333"/><ellipse cx="449" cy="772" rx="10" ry="3.3" fill="#333"/>
<ellipse cx="487" cy="773" rx="10" ry="3" fill="#444"/><ellipse cx="510" cy="772" rx="10" ry="3.3" fill="#333"/><ellipse cx="533" cy="772" rx="10" ry="3.3" fill="#333"/>
<ellipse cx="403" cy="802" rx="10.5" ry="3.5" fill="#111"/><ellipse cx="426" cy="802" rx="10.5" ry="3.5" fill="#111"/><ellipse cx="449" cy="802" rx="10.5" ry="3.5" fill="#111"/>
<ellipse cx="487" cy="802" rx="10.5" ry="3.3" fill="#111"/><ellipse cx="510" cy="802" rx="10.5" ry="3.3" fill="#111"/><ellipse cx="533" cy="802" rx="10.5" ry="3.3" fill="#111"/>
</g>
<text x="380" y="716" class="e">β-Catenin</text>
<text x="380" y="738" class="e">p-GSK-3β</text>
<text x="380" y="752" class="e">(S9)</text>
<text x="380" y="776" class="e">GSK-3β</text>
<text x="380" y="806" class="e">β-Actin</text>
<g stroke="#333"><line x1="548" y1="717" x2="553" y2="717"/><line x1="548" y1="733" x2="553" y2="733"/><line x1="548" y1="763" x2="553" y2="763"/><line x1="548" y1="808" x2="553" y2="808"/></g>
<text x="557" y="702">(kDa)</text>
<text x="557" y="722">90</text>
<text x="557" y="741">50</text>
<text x="557" y="771">50</text>
<text x="557" y="812">40</text>
<text x="462" y="829" class="m">H520</text>

<!-- ================= PANEL G ================= -->
<text x="598" y="603" class="pl" style="font-family:'Liberation Serif',serif">g</text>
<text x="712" y="656" class="m">shGAD1</text>
<text x="798" y="656" class="m">shGAD1</text>
<line x1="693" y1="660" x2="737" y2="660" stroke="#222" stroke-width="1.3"/>
<line x1="778" y1="660" x2="823" y2="660" stroke="#222" stroke-width="1.3"/>
<text x="677" y="678" class="m">NTC</text><text x="703" y="678" class="m">1</text><text x="723" y="678" class="m">2</text>
<text x="765" y="678" class="m">NTC</text><text x="792" y="678" class="m">1</text><text x="810" y="678" class="m">2</text>
<text x="658" y="694" class="e">LiCl</text>
<text x="680" y="694" class="m">–</text><text x="705" y="694" class="m">–</text><text x="726" y="694" class="m">–</text><text x="766" y="694" class="m">+</text><text x="789" y="694" class="m">+</text><text x="811" y="694" class="m">+</text>
<rect x="663" y="698" width="162" height="24" class="box"/>
<rect x="663" y="728" width="162" height="24" class="box"/>
<rect x="663" y="758" width="162" height="24" class="box"/>
<rect x="663" y="789" width="162" height="24" class="box"/>
<g filter="url(#bl)">
<ellipse cx="680" cy="710" rx="10" ry="3" fill="#666"/><ellipse cx="704" cy="711" rx="9.5" ry="2.3" fill="#ccc"/><ellipse cx="726" cy="711" rx="9.5" ry="2.3" fill="#c0c0c0"/>
<ellipse cx="766" cy="709" rx="11" ry="4.3" fill="#000"/><ellipse cx="789" cy="709" rx="10.5" ry="4" fill="#000"/><ellipse cx="811" cy="709" rx="10.5" ry="4" fill="#000"/>
<ellipse cx="680" cy="740" rx="10.5" ry="3.5" fill="#111"/><ellipse cx="704" cy="740" rx="10.5" ry="3.5" fill="#111"/><ellipse cx="726" cy="740" rx="10.5" ry="3.5" fill="#111"/>
<ellipse cx="766" cy="740" rx="10.5" ry="3.5" fill="#111"/><ellipse cx="789" cy="740" rx="10.5" ry="3.5" fill="#111"/><ellipse cx="811" cy="739" rx="10.5" ry="3.5" fill="#111"/>
<ellipse cx="680" cy="770" rx="10" ry="3" fill="#555"/><ellipse cx="704" cy="771" rx="9.5" ry="2.3" fill="#ccc"/><ellipse cx="726" cy="771" rx="9.5" ry="2.3" fill="#ccc"/>
<ellipse cx="766" cy="770" rx="11" ry="4" fill="#000"/><ellipse cx="789" cy="770" rx="10.5" ry="3.7" fill="#111"/><ellipse cx="811" cy="769" rx="10.5" ry="3.7" fill="#111"/>
<ellipse cx="680" cy="801" rx="10.5" ry="3.5" fill="#111"/><ellipse cx="704" cy="801" rx="10.5" ry="3.5" fill="#111"/><ellipse cx="726" cy="801" rx="10.5" ry="3.5" fill="#111"/>
<ellipse cx="766" cy="801" rx="10.5" ry="3.3" fill="#111"/><ellipse cx="789" cy="801" rx="10.5" ry="3.3" fill="#111"/><ellipse cx="811" cy="800" rx="10.5" ry="3.5" fill="#111"/>
</g>
<text x="658" y="706" class="e">p-GSK-3β</text>
<text x="658" y="720" class="e">(S9)</text>
<text x="658" y="744" class="e">GSK-3β</text>
<text x="658" y="774" class="e">β-Catenin</text>
<text x="658" y="805" class="e">β-Actin</text>
<g stroke="#333"><line x1="825" y1="704" x2="830" y2="704"/><line x1="825" y1="731" x2="830" y2="731"/><line x1="825" y1="775" x2="830" y2="775"/><line x1="825" y1="805" x2="830" y2="805"/></g>
<text x="835" y="689">(kDa)</text>
<text x="832" y="709">50</text>
<text x="832" y="739">50</text>
<text x="832" y="779">90</text>
<text x="832" y="809">40</text>
<text x="748" y="829" class="m">H520</text>

<!-- ================= PANEL H ================= -->
<text x="889" y="603" class="pl">h</text>
<text x="977" y="612">GABA<tspan font-size="9" dy="3">B</tspan><tspan dy="-3">R</tspan></text>
<rect x="886" y="650" width="164" height="178" rx="13" fill="none" stroke="#222" stroke-width="2"/>
<!-- receptor -->
<g stroke="#333" stroke-width="1" fill="none">
<path d="M983,641 v18 M987,641 v18 M991,641 v18 M995,641 v18 M1007,641 v18 M1011,641 v18 M1015,641 v18 M1019,641 v18"/>
<path d="M983,641 q2,-3 4,0 M991,641 q2,-3 4,0 M983,659 q2,3 4,0 M991,659 q2,3 4,0 M1007,641 q2,-3 4,0 M1015,641 q2,-3 4,0 M1007,659 q2,3 4,0 M1015,659 q2,3 4,0"/>
<path d="M987,641 q2,-2 4,0 M1011,641 q2,-2 4,0 M995,659 q6,4 12,0"/>
<path d="M980,644 h10" stroke-width="1.5"/>
</g>
<ellipse cx="992" cy="630" rx="8" ry="11" fill="#f3bd90" stroke="#333" stroke-width="1"/>
<ellipse cx="1009" cy="630" rx="8" ry="11" fill="#f3bd90" stroke="#333" stroke-width="1"/>
<path d="M927,652 C925,620 945,608 975,620" fill="none" stroke="#222" stroke-width="1.2" marker-end="url(#ah)"/>
<text x="922" y="678" class="m" style="fill:#e0303a">GABA</text>
<line x1="922" y1="695" x2="922" y2="684" stroke="#222" stroke-width="1.2" marker-end="url(#ah)"/>
<rect x="903" y="695" width="39" height="18" rx="2" fill="#f3cccc" stroke="#333" stroke-width="1"/>
<text x="922" y="709" class="m">GAD1</text>
<line x1="922" y1="713" x2="922" y2="722" stroke="#222" stroke-width="1.2"/>
<text x="927" y="738" class="m">Glutamate</text>
<line x1="1003" y1="666" x2="1003" y2="684" stroke="#222" stroke-width="1.2" marker-end="url(#ah)"/>
<ellipse cx="1005" cy="702" rx="23" ry="10" fill="#cde6f0" stroke="#333" stroke-width="1"/>
<circle cx="975" cy="691" r="6" fill="#f5c842" stroke="#333" stroke-width="1"/>
<text x="975" y="695" class="m" style="font-size:10px">P</text>
<text x="1006" y="707" class="m">GSK3β</text>
<text x="1005" y="727" class="m">Inactivation</text>
<line x1="1003" y1="735" x2="1003" y2="753" stroke="#222" stroke-width="1.2" marker-end="url(#ah)"/>
<ellipse cx="1003" cy="770" rx="37" ry="10" fill="#f3cccc" stroke="#333" stroke-width="1"/>
<text x="1003" y="775" class="m">β-Catenin</text>
<line x1="1003" y1="781" x2="1003" y2="800" stroke="#222" stroke-width="1.2" marker-end="url(#ah)"/>
<text x="948" y="811" class="m">Target genes</text>
<g fill="none" stroke="#333" stroke-width="1.2">
<path d="M1000,818 C1008,808 1014,826 1022,812 C1026,806 1030,812 1032,818"/>
<path d="M1000,812 C1008,826 1014,808 1022,820 C1026,826 1030,818 1032,812"/>
<path d="M1004,806 v-4 h16" marker-end="url(#ah)"/>
</g>
<!-- watermark -->
<text x="852" y="800" style="font-family:'Noto Sans CJK SC','WenQuanYi Zen Hei',sans-serif;font-size:30px;fill:rgba(140,140,140,0.45)">知乎 @米立君</text>
</svg>
</body></html>
